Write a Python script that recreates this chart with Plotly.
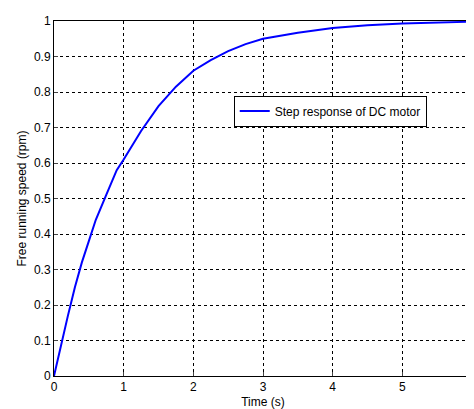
import plotly.graph_objects as go

time_s = [0, 0.1, 0.2, 0.3, 0.4, 0.5, 0.6, 0.75, 0.9, 1.0, 1.25, 1.5, 1.75, 2.0, 2.25, 2.5, 2.75, 3.0, 3.5, 4.0, 4.5, 5.0, 5.5, 6.0]
speed = [0, 0.09, 0.17, 0.25, 0.32, 0.38, 0.44, 0.51, 0.58, 0.61, 0.69, 0.76, 0.815, 0.86, 0.89, 0.915, 0.935, 0.95, 0.967, 0.98, 0.988, 0.993, 0.996, 0.998]

fig = go.Figure()
fig.add_trace(go.Scatter(x=time_s, y=speed, mode="lines", line=dict(color="#0000ff", width=2),
                         name="Step response of DC motor"))

axis = dict(showline=True, linecolor="black", mirror=True, ticks="inside", ticklen=4,
            showgrid=True, gridcolor="black", griddash="dot", gridwidth=1, zeroline=False,
            tickfont=dict(size=12, color="black"))
fig.update_xaxes(range=[0, 6], dtick=1, title=dict(text="Time (s)", font=dict(size=12), standoff=4), **axis)
fig.update_yaxes(range=[0, 1], dtick=0.1,
                 title=dict(text="Free running speed (rpm)", font=dict(size=12), standoff=4), **axis)
fig.update_layout(width=474, height=409, plot_bgcolor="white", paper_bgcolor="white",
                  margin=dict(l=46, r=6, t=8, b=41), font=dict(family="Liberation Sans", color="black"),
                  showlegend=True,
                  legend=dict(x=0.43, y=0.79, xanchor="left", yanchor="top", bgcolor="white",
                              bordercolor="black", borderwidth=1, font=dict(size=12)))
fig.write_html("out.html")
